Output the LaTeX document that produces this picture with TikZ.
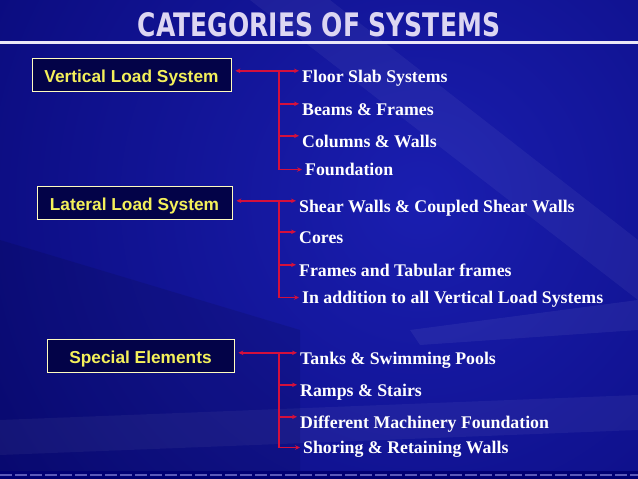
\documentclass[tikz,border=0pt]{standalone}
\usepackage{fontspec}
\setmainfont{Liberation Serif}
\newfontfamily\boxfont{Liberation Sans}
\newfontfamily\titlefont{DejaVu Sans Condensed}
\usetikzlibrary{arrows.meta}
\definecolor{bgdark}{HTML}{070772}
\definecolor{bglight}{HTML}{1A1EB0}
\definecolor{linkred}{HTML}{D4103C}
\definecolor{titlecol}{HTML}{DCD6F2}
\definecolor{boxtext}{HTML}{F4F05A}
\definecolor{boxfill}{HTML}{030348}
\begin{document}
\begin{tikzpicture}[x=1pt, y=-1pt,
  catbox/.style={draw=yellow!25!white, line width=0.8pt, fill=boxfill, text=boxtext,
    font=\boxfont\bfseries\fontsize{17.3}{20}\selectfont, minimum height=33pt, inner sep=0pt,
    text height=15pt, text depth=0pt},
  item/.style={anchor=base west, text=white, font=\bfseries\fontsize{17.8}{20}\selectfont,
    text height=11pt, text depth=0pt, inner xsep=3pt, inner ysep=0pt},
  link/.style={draw=linkred, line width=1.4pt},
  tip/.style={link, -{Stealth[length=5pt, width=4.5pt]}}]
  % Background
  \useasboundingbox (0,0) rectangle (638,479);
  \fill[bgdark] (0,0) rectangle (638,479);
  \begin{scope}
    \clip (0,0) rectangle (638,479);
    \shade[inner color=bglight, outer color=bgdark] (420,200) circle (600);
    \fill[white, opacity=0.05] (250,0) -- (330,0) -- (638,240) -- (638,300) -- cycle;
    \fill[white, opacity=0.06] (410,330) -- (638,300) -- (638,330) -- (420,345) -- cycle;
    \fill[white, opacity=0.05] (0,420) -- (638,395) -- (638,430) -- (0,455) -- cycle;
    \fill[black, opacity=0.10] (0,240) -- (300,330) -- (300,479) -- (0,479) -- cycle;
  \end{scope}
  \fill[blue!45!black] (0,471) rectangle (638,479);
  \draw[blue!30!white, opacity=0.5, line width=2pt, dash pattern=on 12pt off 3pt] (0,475) -- (638,475);
  % Title and rule
  \node[anchor=base, text=titlecol, inner sep=0pt] (title) at (319,36)
    {\resizebox{362pt}{24pt}{\titlefont\bfseries CATEGORIES OF SYSTEMS}};
  \draw[titlecol!60!white, line width=3pt] (0,42.5) -- (638,42.5);
  % Category boxes
  \node[catbox, minimum width=199pt] (vls) at (131.5,74.5) {Vertical Load System};
  \node[catbox, minimum width=195pt] (lls) at (134.5,202.5) {Lateral Load System};
  \node[catbox, minimum width=187pt] (spe) at (140.5,355.5) {Special Elements};
  % Items
  \foreach \n/\x/\y/\t in {v1/299/82/Floor Slab Systems, v2/299/115/Beams \& Frames,
      v3/299/147/Columns \& Walls, v4/302/175/Foundation,
      l1/296/212/Shear Walls \& Coupled Shear Walls, l2/296/243/Cores,
      l3/296/276/Frames and Tabular frames, l4/299/303/In addition to all Vertical Load Systems,
      s1/297/364/Tanks \& Swimming Pools, s2/297/396/Ramps \& Stairs,
      s3/297/428/Different Machinery Foundation, s4/300/453/Shoring \& Retaining Walls}
    \node[item] (\n) at (\x,\y) {\t};
  % Junctions
  \coordinate (jv) at (279,0);
  \coordinate (jl) at (279,0);
  \coordinate (js) at (279,0);
  % Vertical load links
  \draw[tip, shorten >=4pt] (jv |- v1.north west) -- (vls.east |- v1.north west);
  \draw[tip] (jv |- v1.north west) -- (v1.north west);
  \draw[tip] (jv |- v1.north west) |- (v4.west);
  \foreach \n in {v2, v3} \draw[tip] (jv |- \n.north west) -- (\n.north west);
  % Lateral load links
  \draw[tip, shorten >=4pt] (jl |- l1.north west) -- (lls.east |- l1.north west);
  \draw[tip] (jl |- l1.north west) -- (l1.north west);
  \draw[tip] (jl |- l1.north west) |- (l4.west);
  \foreach \n in {l2, l3} \draw[tip] (jl |- \n.north west) -- (\n.north west);
  % Special element links
  \draw[tip, shorten >=4pt] (js |- s1.north west) -- (spe.east |- s1.north west);
  \draw[tip] (js |- s1.north west) -- (s1.north west);
  \draw[tip] (js |- s1.north west) |- (s4.west);
  \foreach \n in {s2, s3} \draw[tip] (js |- \n.north west) -- (\n.north west);
\end{tikzpicture}
\end{document}
